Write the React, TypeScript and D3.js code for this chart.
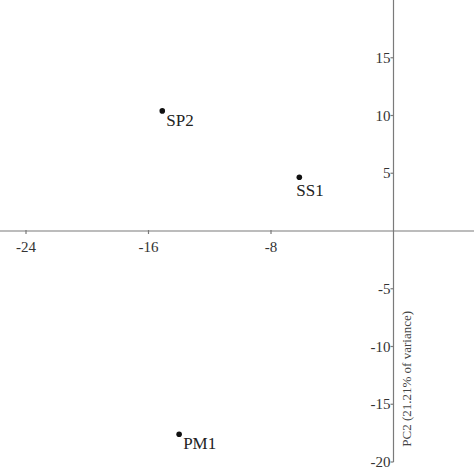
import React, { useEffect, useRef } from 'react'
import * as d3 from 'd3'

// PCA scores
const samples = ['SP2', 'SS1', 'PM1']
const pc1 = [-15.1, -6.15, -14.0]
const pc2 = [10.4, 4.65, -17.6]
const labelPos = ['right', 'below', 'right']

const xTicks = [-24, -16, -8]
const yTicks = [15, 10, 5, -5, -10, -15, -20]
const yTitle = 'PC2 (21.21% of variance)'

const W = 474
const H = 474

const App: React.FC = () => {
  const ref = useRef<SVGSVGElement>(null)

  useEffect(() => {
    if (!ref.current) return
    const svg = d3.select(ref.current)
    svg.selectAll('*').remove()

    const x = d3.scaleLinear().domain([-24, 0]).range([26, 393.5])
    const y = d3.scaleLinear().domain([-20, 0]).range([462, 231])

    const axisColor = '#7a7a7a'

    // horizontal axis through y = 0
    svg.append('line')
      .attr('x1', 0).attr('x2', W)
      .attr('y1', y(0)).attr('y2', y(0))
      .attr('stroke', axisColor).attr('stroke-width', 1.2)

    // vertical axis through x = 0
    svg.append('line')
      .attr('x1', x(0)).attr('x2', x(0))
      .attr('y1', 0).attr('y2', y(-20))
      .attr('stroke', axisColor).attr('stroke-width', 1.2)

    // x ticks
    xTicks.forEach(t => {
      svg.append('line')
        .attr('x1', x(t)).attr('x2', x(t))
        .attr('y1', y(0) - 1).attr('y2', y(0) + 3)
        .attr('stroke', axisColor).attr('stroke-width', 1.2)
      svg.append('text')
        .attr('x', x(t)).attr('y', y(0) + 21)
        .attr('text-anchor', 'middle')
        .style('font-size', '15px')
        .attr('fill', '#333')
        .text(t)
    })

    // y ticks
    yTicks.forEach(t => {
      svg.append('line')
        .attr('x1', x(0) - 3).attr('x2', x(0))
        .attr('y1', y(t)).attr('y2', y(t))
        .attr('stroke', axisColor).attr('stroke-width', 1.2)
      svg.append('text')
        .attr('x', x(0) - 3).attr('y', y(t) + 5)
        .attr('text-anchor', 'end')
        .style('font-size', '15px')
        .attr('fill', '#333')
        .text(t)
    })

    // axis title, rotated, right of the vertical axis
    svg.append('text')
      .attr('transform', `translate(${x(0) + 17},${y(-12.8)}) rotate(-90)`)
      .attr('text-anchor', 'middle')
      .style('font-size', '13px')
      .attr('fill', '#444')
      .text(yTitle)

    // points and labels
    samples.forEach((s, i) => {
      const cx = x(pc1[i])
      const cy = y(pc2[i])
      svg.append('circle')
        .attr('cx', cx).attr('cy', cy).attr('r', 2.8)
        .attr('fill', '#111')
      const below = labelPos[i] === 'below'
      svg.append('text')
        .attr('x', below ? cx - 3 : cx + 4)
        .attr('y', below ? cy + 19 : cy + 15)
        .style('font-size', '17px')
        .attr('fill', '#222')
        .text(s)
    })
  }, [])

  return (
    <svg
      ref={ref}
      width={W}
      height={H}
      style={{
        position: 'absolute', left: 0, top: 0, background: '#fff',
        fontFamily: "'Liberation Serif', 'DejaVu Serif', serif"
      }}
    />
  )
}

export default App
